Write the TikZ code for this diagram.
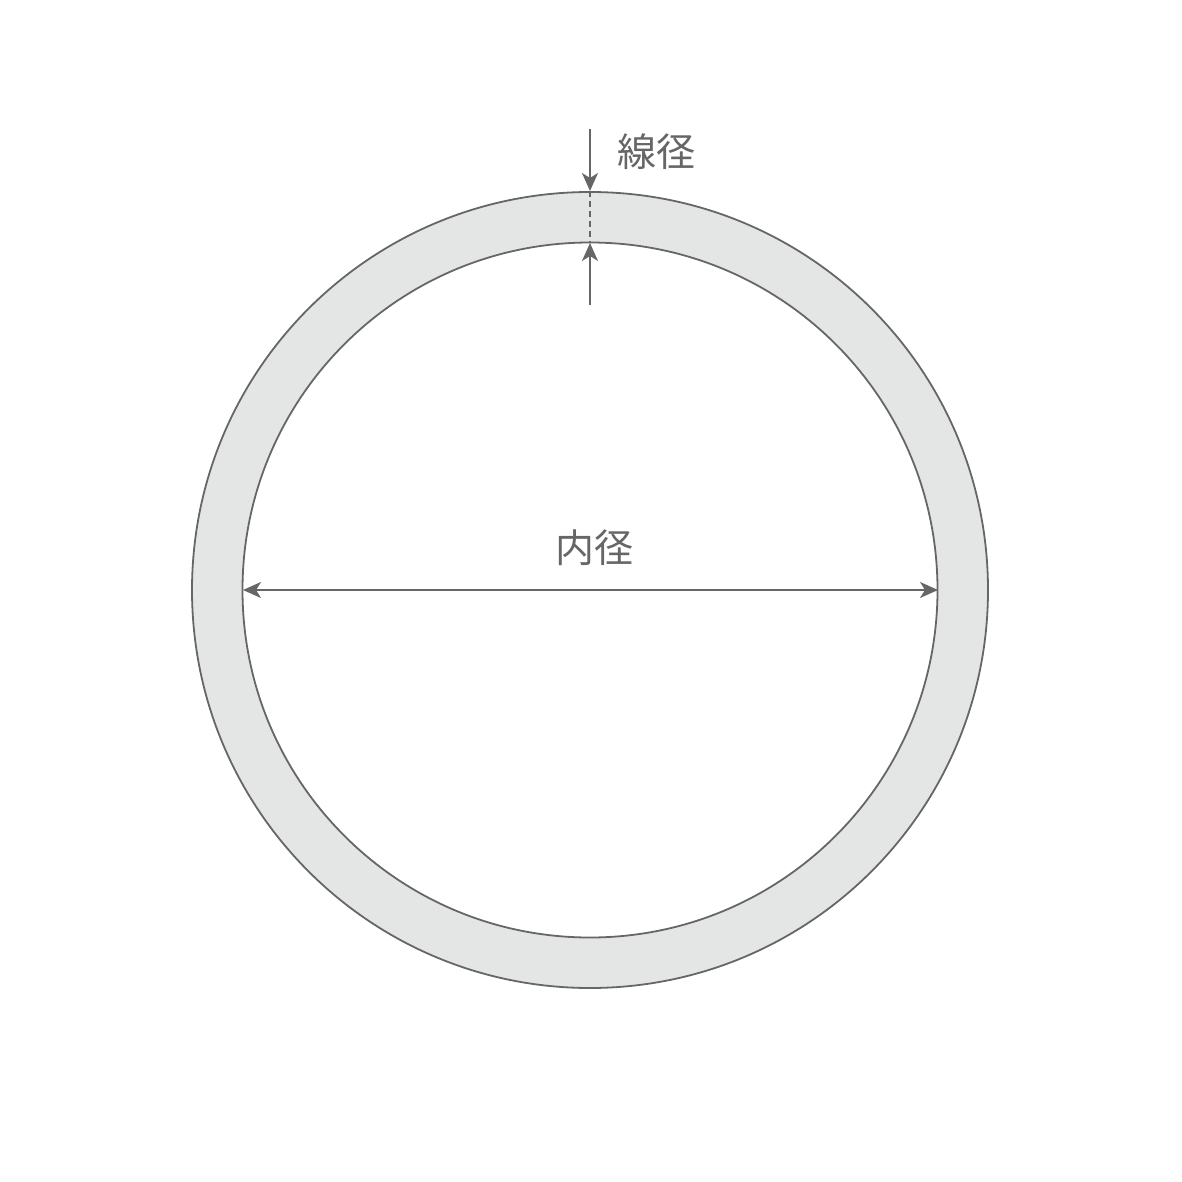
\documentclass[tikz,border=0pt]{standalone}
\usepackage{fontspec}
\newfontfamily\jpfont{Noto Sans CJK JP}
\usetikzlibrary{arrows.meta}
\definecolor{ringline}{HTML}{666666}
\definecolor{ringfill}{HTML}{E4E5E5}
\tikzset{
	dim/.style={draw=ringline, line width=0.9pt, -{Stealth[length=9pt,width=8pt,inset=2.5pt]}},
	lbl/.style={inner sep=0pt, text=ringline, font=\jpfont\fontsize{19.5}{20}\selectfont}
}
\begin{document}
\begin{tikzpicture}[x=0.5pt,y=0.5pt,yscale=-1,xscale=1]
	\useasboundingbox (0,0) rectangle (1182,1182);
	\draw [ringline, line width=0.9pt, fill=ringfill, even odd rule] (590,590) circle (398) (590,590) circle (347.5);
	\coordinate (otop) at (590,191);
	\coordinate (itop) at (590,243);
	\coordinate (above) at (590,129);
	\coordinate (below) at (590,305);
	\coordinate (ileft) at (243,590);
	\coordinate (iright) at (938,590);
	\coordinate (mid) at (590,590);
	\draw [dim] (above) -- (otop);
	\draw [dim] (below) -- (itop);
	\draw [ringline, line width=0.6pt, dash pattern=on 3pt off 2pt] (otop) -- (itop);
	\draw [dim] (mid) -- (ileft);
	\draw [dim] (mid) -- (iright);
	\node [lbl] (wire) at (656,152) {線径};
	\node [lbl] (inner) at (594,548) {内径};
\end{tikzpicture}
\end{document}
